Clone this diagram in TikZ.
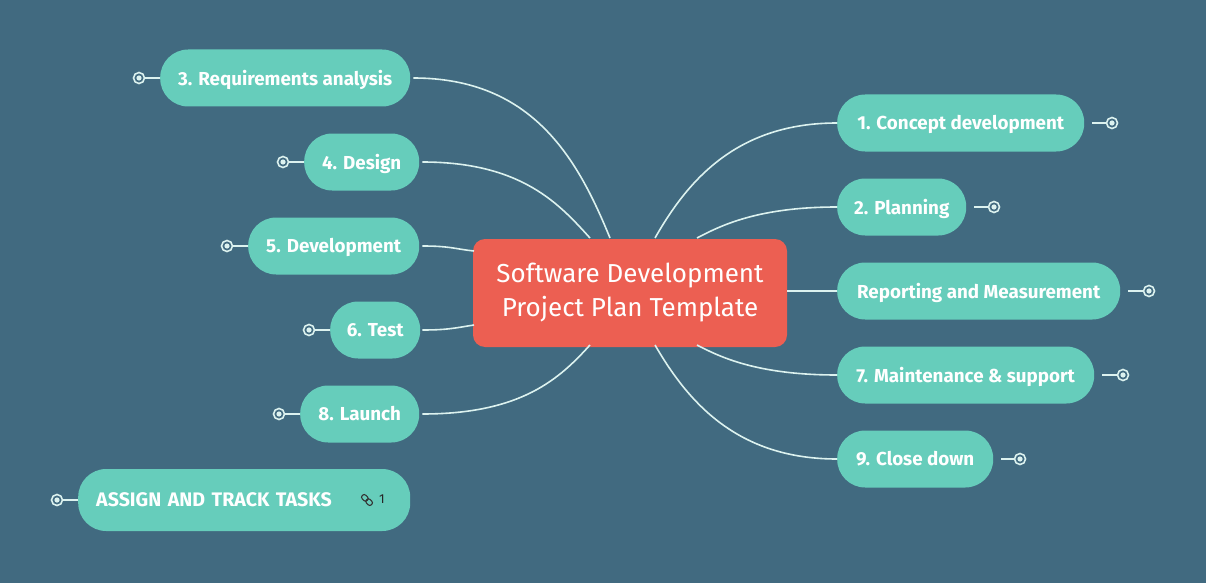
\documentclass[tikz,border=0pt]{standalone}
\usepackage{fontspec}
\setmainfont{Fira Sans}
\begin{document}
\begin{tikzpicture}[x=1pt,y=-1pt,
  topic/.style={fill=tealc,text=white,rounded corners=28pt,minimum height=57pt,inner sep=0pt,font=\fontsize{18.8}{21}\selectfont\bfseries,anchor=west,text depth=1pt},
  conn/.style={draw=linec,line width=1.6pt},
  fold/.style={draw=linec,line width=1.6pt,fill=bgc,circle,minimum size=11pt,inner sep=0pt}]
\definecolor{bgc}{HTML}{416A80}
\definecolor{tealc}{HTML}{66CDBB}
\definecolor{redc}{HTML}{EC5F52}
\definecolor{linec}{HTML}{DCF2EF}
\fill[bgc] (0,0) rectangle (1206,583);
\useasboundingbox (0,0) rectangle (1206,583);
\node[fill=redc,text=white,rounded corners=12pt,minimum width=314pt,minimum height=108pt,align=center,font=\fontsize{26}{34}\selectfont] (c) at (630,293) {Software Development\\Project Plan Template};
% left
\node[topic,minimum width=250pt] (r3) at (160,78) {3. Requirements analysis};
\node[topic,minimum width=115pt] (r4) at (304,162) {4. Design};
\node[topic,minimum width=171pt] (r5) at (248,246) {5. Development};
\node[topic,minimum width=90pt] (r6) at (330,330) {6. Test};
\node[topic,minimum width=119pt] (r8) at (300,414) {8. Launch};
\node[topic,minimum width=332pt,minimum height=62pt,text width=314pt,align=left,font=\fontsize{19.6}{23}\selectfont\bfseries] (ra) at (78,500) {\hspace*{9pt}ASSIGN AND TRACK TASKS};
% right
\node[topic,minimum width=247pt] (l1) at (837,123) {1. Concept development};
\node[topic,minimum width=129pt] (l2) at (837,207) {2. Planning};
\node[topic,minimum width=283pt] (lr) at (837,291) {Reporting and Measurement};
\node[topic,minimum width=257pt] (l7) at (837,375) {7. Maintenance \& support};
\node[topic,minimum width=156pt] (l9) at (837,459) {9. Close down};
% link icon
\begin{scope}[shift={(367,500)},rotate=-45,draw=black!80,line width=1.1pt]
\draw[rounded corners=2.2pt] (-6.5,-2.5) rectangle (0.5,2.5);
\draw[rounded corners=2.2pt] (-0.5,-2.5) rectangle (6.5,2.5);
\end{scope}
\node[font=\fontsize{13}{15}\selectfont,text=black!85] (ln) at (382,499) {1};
% connectors
\coordinate (p3) at (610,238); \coordinate (p4) at (590,238);
\coordinate (p5) at (474,251); \coordinate (p6) at (474,325);
\coordinate (p8) at (590,345);
\coordinate (q1) at (655,238); \coordinate (q2) at (697,238);
\coordinate (q7) at (697,345); \coordinate (q9) at (655,345);
\draw[conn] ([xshift=3pt]r3.east) .. controls +(120,0) and (578,160) .. (p3);
\draw[conn] ([xshift=3pt]r4.east) .. controls +(100,0) and (560,205) .. (p4);
\draw[conn] ([xshift=3pt]r5.east) .. controls +(28,0) and (455,249) .. (p5);
\draw[conn] ([xshift=2pt]r6.east) .. controls +(25,0) and (455,328) .. (p6);
\draw[conn] ([xshift=3pt]r8.east) .. controls +(100,0) and (560,378) .. (p8);
\draw[conn] (l1.west) .. controls +(-100,0) and (688,180) .. (q1);
\draw[conn] (l2.west) .. controls +(-80,0) and (720,226) .. (q2);
\draw[conn] (lr.west) -- (lr.west -| c.east);
\draw[conn] (l7.west) .. controls +(-80,0) and (720,357) .. (q7);
\draw[conn] (l9.west) .. controls +(-100,0) and (688,402) .. (q9);
% fold markers
\foreach \n/\x/\y/\s in {f3/139/78/r3, f4/283/162/r4, f5/227/246/r5, f6/309/330/r6, f8/279/414/r8, fa/57/500/ra}{
  \node[fold] (\n) at (\x,\y) {};
  \draw[conn] (\n.east) -- (\s.west);
  \fill[linec] (\n.center) circle (2.6pt);
}
\foreach \n/\x/\y/\s/\g in {g1/1112/123/l1/8, g2/994/207/l2/8, gr/1149/291/lr/8, g7/1123/375/l7/8, g9/1020/459/l9/8}{
  \node[fold] (\n) at (\x,\y) {};
  \draw[conn] ([xshift=\g pt]\s.east) -- (\n.west);
  \fill[linec] (\n.center) circle (2.6pt);
}
\end{tikzpicture}
\end{document}
